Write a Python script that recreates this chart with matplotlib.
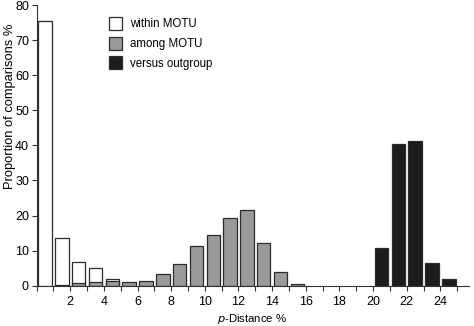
import matplotlib
matplotlib.use("Agg")
import matplotlib.pyplot as plt
from matplotlib.patches import Patch
import numpy as np

plt.rcParams['font.family'] = ['Liberation Sans', 'DejaVu Sans']

bin_centers = np.arange(0.5, 25.0, 1.0)  # 0.5 ... 24.5

within = [75.5, 13.7, 6.8, 5.1, 2.0, 0, 0, 0, 0, 0, 0, 0, 0, 0, 0, 0, 0, 0, 0, 0, 0, 0, 0, 0, 0]
among = [0, 0.3, 0.7, 1.0, 1.3, 1.0, 1.4, 3.3, 6.3, 11.4, 14.5, 19.4, 21.6, 12.3, 4.0, 0.4,
         0, 0, 0, 0, 0, 0, 0, 0, 0]
outgroup = [0, 0, 0, 0, 0, 0, 0, 0, 0, 0, 0, 0, 0, 0, 0, 0, 0, 0, 0, 0, 10.8, 40.3, 41.1, 6.4, 1.8]

labels = ["within MOTU", "among MOTU", "versus outgroup"]
xtick_vals = list(range(2, 25, 2))
ytick_vals = list(range(0, 81, 10))

fig = plt.figure(figsize=(4.74, 3.26), dpi=100)
ax = fig.add_axes([36.6 / 474, 1 - 285.7 / 326, (469 - 36.6) / 474, (285.7 - 5) / 326])

edge = '#2b2b2b'
w = 0.8
lw = 0.9
def draw(vals, color):
    v = np.array(vals, dtype=float)
    m = v > 0
    ax.bar(bin_centers[m], v[m], width=w, color=color, edgecolor=edge, linewidth=lw)

draw(within, 'white')
draw(among, '#9a9a9a')
draw(outgroup, '#1c1c1c')

ax.set_xlim(0, 25.7)
ax.set_ylim(0, 80)
ax.set_xticks(range(0, 26), minor=True)
ax.set_xticks(xtick_vals)
ax.set_xticklabels([str(v) for v in xtick_vals])
ax.set_yticks(ytick_vals)
ax.tick_params(axis='both', which='both', direction='out', length=3.5, width=0.8, labelsize=9, color='#333333')
ax.tick_params(axis='x', pad=4)
ax.tick_params(axis='y', pad=2)
for s in ['top', 'right']:
    ax.spines[s].set_visible(False)
for s in ['left', 'bottom']:
    ax.spines[s].set_linewidth(0.8)
    ax.spines[s].set_color('#333333')

ax.set_xlabel(r"$p$-Distance %", fontsize=8.2)
ax.xaxis.set_label_coords(0.5, -(318 - 285.7) / 280.7, transform=None) if False else None
ax.xaxis.set_label_coords((252 - 36.6) / 432.4, -(319 - 285.7) / 280.7)
ax.xaxis.label.set_va('center')
ax.set_ylabel("Proportion of comparisons %", fontsize=9.3)
ax.yaxis.set_label_coords((10 - 36.6) / 432.4, (285.7 - 106) / 280.7)
ax.yaxis.label.set_va('center')

handles = [Patch(facecolor=c, edgecolor=edge, linewidth=lw) for c in ['white', '#9a9a9a', '#1c1c1c']]
leg = ax.legend(handles, labels, loc='upper left', bbox_to_anchor=(109 / 474, 1 - 17 / 326),
                bbox_transform=fig.transFigure, frameon=False, fontsize=8.3,
                handlelength=1.15, handleheight=1.35, handletextpad=0.7, labelspacing=0.55,
                borderpad=0, borderaxespad=0)

fig.savefig('out.png', dpi=100)
